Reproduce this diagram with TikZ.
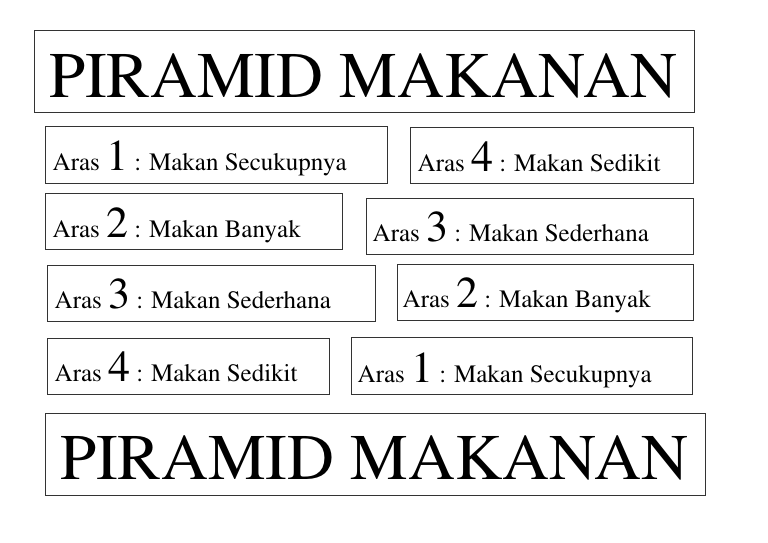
\documentclass[tikz,border=0pt]{standalone}
\usepackage[T1]{fontenc}
\usepackage{mathptmx}
\usetikzlibrary{positioning,calc}
\tikzset{
box/.style = {draw=black!80, line width=1pt, inner sep=0pt, minimum width=#1, minimum height=56pt},
box/.default = 300pt,
judul/.style = {font=\fontsize{65}{65}\selectfont, inner sep=0pt, anchor=base},
aras/.style = {font=\fontsize{25}{26}\selectfont, inner sep=0pt, anchor=base west}
}
\newcommand{\tahap}[1]{{\fontsize{44}{44}\selectfont #1}}

\begin{document}
\begin{tikzpicture}[x=1pt, y=-1pt]
\useasboundingbox (0,0) rectangle (768,543);
% tajuk atas
\node [box=660pt, minimum height=81pt] (t1) at (364,71.5) {};
\node [judul] (t1txt) at ($(t1.south)+(-1,-15)$) {PIRAMID MAKANAN};
% baris 1
\node [box=342pt, minimum height=57pt] (r1l) at (216,154.5) {};
\node [box=283pt] (r1r) at (551.5,155) {};
% baris 2
\node [box=297pt] (r2l) at (193.5,221) {};
\node [box=327pt] (r2r) at (529.5,226) {};
% baris 3
\node [box=328pt] (r3l) at (211,293) {};
\node [box=296pt] (r3r) at (545,292) {};
% baris 4
\node [box=282pt] (r4l) at (188,366) {};
\node [box=341pt, minimum height=57pt] (r4r) at (521.5,365.5) {};
% tajuk bawah
\node [box=660pt, minimum height=82pt] (t2) at (375,454) {};
\node [judul] (t2txt) at ($(t2.south)+(-1,-16)$) {PIRAMID MAKANAN};
% teks aras
\node [aras] (r1ltxt) at ($(r1l.south west)+(8,-13)$) {Aras \tahap{1} : Makan Secukupnya};
\node [aras] (r1rtxt) at ($(r1r.south west)+(8,-12)$) {Aras \tahap{4} : Makan Sedikit};
\node [aras] (r2ltxt) at ($(r2l.south west)+(8,-12)$) {Aras \tahap{2} : Makan Banyak};
\node [aras] (r2rtxt) at ($(r2r.south west)+(7,-13)$) {Aras \tahap{3} : Makan Sederhana};
\node [aras] (r3ltxt) at ($(r3l.south west)+(8,-13)$) {Aras \tahap{3} : Makan Sederhana};
\node [aras] (r3rtxt) at ($(r3r.south west)+(6,-13)$) {Aras \tahap{2} : Makan Banyak};
\node [aras] (r4ltxt) at ($(r4l.south west)+(8,-13)$) {Aras \tahap{4} : Makan Sedikit};
\node [aras] (r4rtxt) at ($(r4r.south west)+(7,-12)$) {Aras \tahap{1} : Makan Secukupnya};
\end{tikzpicture}
\end{document}
